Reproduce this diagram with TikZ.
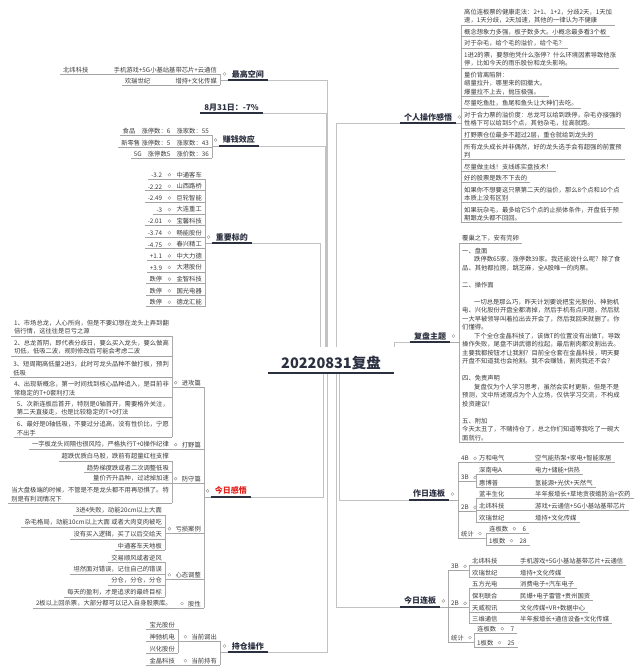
\documentclass[tikz,border=0pt]{standalone}
\usepackage{fontspec}
\setmainfont{Noto Sans CJK SC}
\usetikzlibrary{positioning}
\definecolor{navy}{HTML}{2B3040}
\definecolor{leafink}{HTML}{3A3A3A}
\definecolor{rootgray}{HTML}{C2C2C2}
\definecolor{conngray}{HTML}{ABABAB}
\definecolor{ulgray}{HTML}{A3A3A3}
\definecolor{hotred}{HTML}{E3201B}
\tikzset{
    rootnode/.style = {font=\fontsize{14.5}{16}\selectfont\bfseries, text=navy, inner xsep=13pt, inner ysep=3pt, anchor=south},
    topicl/.style = {font=\fontsize{8}{10}\selectfont\bfseries, text=navy, inner xsep=4pt, inner ysep=2pt, anchor=south east},
    topicr/.style = {topicl, anchor=south west},
    leafl/.style = {font=\fontsize{6.3}{8.5}\selectfont, text=leafink, inner xsep=3pt, inner ysep=1.2pt, align=left, anchor=south east},
    leafr/.style = {leafl, anchor=south west},
    knob/.style = {circle, draw=gray!80, fill=white, line width=0.4pt, inner sep=0pt, minimum size=3pt},
    edgeroot/.style = {-, line width=0.8pt, rootgray}, % root to topics
    edgen/.style = {-, line width=0.5pt, conngray}, % topic to leaves
    ulinet/.style = {-, line width=1.4pt, navy},
    ulinel/.style = {-, line width=0.5pt, ulgray}
}

\begin{document}
\begin{tikzpicture}[x=1pt,y=-1pt]
\useasboundingbox (0,0) rectangle (640,670);

\node[rootnode] (root) at (331,373) {20220831复盘};

\node[topicl] (top1) at (268,80) {最高空间};
\node[topicl] (top2) at (263,113) {8月31日：-7\%};
\node[topicl] (top3) at (259,146) {赚钱效应};
\node[topicl] (top4) at (252,243) {重要标的};
\node[topicl,text=hotred] (top5) at (251,497) {今日感悟};
\node[topicl] (top6) at (268,652) {持仓操作};
\node[topicr] (top7) at (400,123) {个人操作感悟};
\node[topicr] (top8) at (410,342) {复盘主题};
\node[topicr] (top9) at (409,500) {作日连板};
\node[topicr] (top10) at (400,607) {今日连板};

\draw[edgeroot] ([xshift=-4pt,yshift=6pt]root.north) |- (top1.south east);
\draw[edgeroot] ([xshift=-5pt,yshift=6pt]root.north) |- (top2.south east);
\draw[edgeroot] ([xshift=-6pt,yshift=6pt]root.north) |- (top3.south east);
\draw[edgeroot] ([xshift=-11pt,yshift=6pt]root.north) |- (top4.south east);
\draw[edgeroot] ([xshift=-8pt]root.south) |- (top5.south east);
\draw[edgeroot] ([xshift=-4pt]root.south) |- (top6.south east);
\draw[edgeroot] ([xshift=5pt,yshift=6pt]root.north) |- (top7.south west);
\draw[edgeroot] ([yshift=26pt]root.south east) |- (top8.south west);
\draw[edgeroot] ([xshift=8pt]root.south) |- (top9.south west);
\draw[edgeroot] ([xshift=5pt]root.south) |- (top10.south west);

% left side
\node[leafl] (m1c) at (220,74) {手机游戏+5G小基站基带芯片+云通信};
\node[leafl] (m1s) at ([xshift=-19pt]m1c.south west) {北纬科技};
\node[leafl] (m2c) at (220,85) {增持+文化传媒};
\node[leafl] (m2s) at ([xshift=-19pt]m2c.south west) {欢瑞世纪};
\draw[edgen] (top1.south west) -| (m1c.south east);
\draw[edgen] (top1.south west) -| (m2c.south east);

\node[leafl] (z1) at (212,135) {食品\quad 涨停数：6\quad 涨家数：55};
\node[leafl] (z2) at (212,147) {新零售 涨停数：5\quad 涨家数：43};
\node[leafl] (z3) at (212,158) {5G\quad 涨停数5\quad 涨价数：36};
\foreach \c in {z1,z2,z3}
    \draw[edgen] (top3.south west) -| (\c.south east);

\foreach \val/\stk [count=\i] in {-3.2/中通客车, -2.22/山西路桥, -2.49/巨轮智能, -3/大连重工, -2.01/宝馨科技, -3.74/畅能股份, -4.75/春兴精工, +1.1/中大力德, +3.9/大港股份, 跌停/金智科技, 跌停/国光电器, 跌停/德龙汇能}{
    \node[leafl] (b\i) at (205,{179+11.6*(\i-1)}) {\stk};
    \node[leafl] (bv\i) at ([xshift=-8pt]b\i.south west) {\val};
    \draw[ulinel] (bv\i.south west) -- (b\i.south east);
    \draw[edgen] (top4.south west) -| (b\i.south east);
    \node[knob] (bk\i) at ([xshift=-4pt]b\i.west) {};
}

\node[leafl] (g1) at (204,387) {进攻篇};
\node[leafl] (g2) at (204,449) {打野篇};
\node[leafl] (g3) at (204,483) {防守篇};
\node[leafl] (g4) at (204,533) {亏损案例};
\node[leafl] (g5) at (204,579) {心态调整};
\node[leafl] (g6) at (204,608) {股性};
\foreach \c in {g1,g2,g3,g4,g5,g6}
    \draw[edgen] (top5.south west) -| (\c.south east);

\node[leafl] (a1) at (172,336) {1、市场总龙，人心所向，但是不要幻想在龙头上弄到翻\\倍行情，这往往是巨亏之源};
\node[leafl] (a2) at (172,356) {2、总龙首阴，即代表分歧日，要么买入龙头，要么做高\\切低，低吸二波，规则修改后可能会考虑二波};
\node[leafl] (a3) at (172,377) {3、短周期高低量2进3，此时可龙头品种不做打板，预判\\低吸};
\node[leafl] (a4) at (172,397) {4、出现新概念，第一时间找到核心品种追入，是目前非\\常稳定的T+0套利打法};
\node[leafl] (a5) at (172,417) {5、次新连板后首开，特别是0轴首开，需要格外关注，\\第二天直接走，也是比较稳定的T+0打法};
\node[leafl] (a6) at (172,437) {6、最好是0轴低吸，不要过分追高，没有性价比，宁愿\\不出手};
\foreach \c in {a1,a2,a3,a4,a5,a6}
    \draw[edgen] (g1.south west) -| (\c.south east);

\node[leafl] (d1) at (172,449) {一字板龙头间隔也很风险，严格执行T+0操作纪律};
\draw[edgen] (g2.south west) -- (d1.south east);

\node[leafl] (e1) at (172,461) {超跌优质白马股，跌前有超量红柱支撑};
\node[leafl] (e2) at (172,472) {趋势梯度跌或者二次调整低吸};
\node[leafl] (e3) at (172,483) {量价齐升品种，过滤掉加速};
\node[leafl] (e4) at (172,503) {当大盘极端的时候，不管是不是龙头都不用再恐惧了。特\\别是有利润情况下};
\foreach \c in {e1,e2,e3,e4}
    \draw[edgen] (g3.south west) -| (\c.south east);

\node[leafl] (c1) at (165,515) {3进4失败，动能20cm以上大面};
\node[leafl] (c2) at (165,527) {杂毛格局，动能10cm以上大面 或者大肉变肉被吃};
\node[leafl] (c3) at (165,539) {没有买入逻辑，买了以后交给天};
\node[leafl] (c4) at (165,550) {中通客车天地板};
\foreach \c in {c1,c2,c3,c4}
    \draw[edgen] (g4.south west) -| (\c.south east);

\node[leafl] (t1) at (165,562) {交易顺风或者逆风};
\node[leafl] (t2) at (165,574) {坦然面对错误，记住自己的错误};
\node[leafl] (t3) at (165,585) {分仓，分仓，分仓};
\node[leafl] (t4) at (165,597) {每天的盈利，才是追求的最终目标};
\foreach \c in {t1,t2,t3,t4}
    \draw[edgen] (g5.south west) -| (\c.south east);

\node[leafl] (f1) at ([xshift=-10pt]g6.south west) {2板以上回杀票，大部分都可以记入自身股票库。};
\draw[edgen] (g6.south west) -- (f1.south east);

\node[leafl] (h1) at (220,641) {当前调出};
\node[leafl] (h2) at (220,665) {当前持有};
\node[leafl] (h11) at (178,629) {宝光股份};
\node[leafl] (h12) at (178,641) {神驰机电};
\node[leafl] (h13) at (178,653) {兴化股份};
\node[leafl] (h21) at (178,665) {金晶科技};
\foreach \c in {h1,h2}
    \draw[edgen] (top6.south west) -| (\c.south east);
\foreach \c in {h11,h12,h13}
    \draw[edgen] (h1.south west) -| (\c.south east);
\draw[edgen] (h2.south west) -- (h21.south east);

% right side
\node[leafr] (p1) at (461,25) {高位连板票的健康走法：2+1、1+2，分歧2天，1天加\\速，1天分歧，2天加速，其他的一律认为不健康};
\node[leafr] (p2) at (461,36.5) {概念想象力多强，板子数多大。小概念最多看3个板};
\node[leafr] (p3) at (461,48) {对于杂毛，给个毛的溢价，给个毛？};
\node[leafr] (p4) at (461,68) {1进2的票，要想他凭什么涨停？什么环境因素导致他涨\\停，比如今天的雨乐股份和龙头影响。};
\node[leafr] (p5) at (461,96.5) {量价背离陷阱：\\缩量拉升，哪里来的回撤大。\\爆量拉不上去，抛压极强。};
\node[leafr] (p6) at (461,108) {尽量吃鱼肚，鱼尾和鱼头让大神们去吃。};
\node[leafr] (p7) at (461,128) {对于合力票的溢价度：总龙可以给到跌停，杂毛亦接强的\\性格下可以给到5个点，其他杂毛，拉高就跑。};
\node[leafr] (p8) at (461,139.5) {打野票仓位最多不超过2层，重仓就给到龙头的};
\node[leafr] (p9) at (461,159.5) {所有龙头成长并非偶然，好的龙头选手会有超强的前置预\\判};
\node[leafr] (p10) at (461,171) {尽量做主线！支线练实盘技术！};
\node[leafr] (p11) at (461,182.5) {好的股票是跌不下去的};
\node[leafr] (p12) at (461,202.5) {如果你不想要这只票第二天的溢价，那么8个点和10个点\\本质上没有区别};
\node[leafr] (p13) at (461,222.5) {如果玩杂毛，最多给它5个点的止损体条件，开盘低于预\\期跟龙头都不回回。};
\foreach \c in {p1,p2,p3,p4,p5,p6,p7,p8,p9,p10,p11,p12,p13}
    \draw[edgen] (top7.south east) -| (\c.south west);

\node[leafr] (q1) at (459,243) {覆巢之下，安有完卵};
\node[leafr] (q2) at (459,442) {一、盘面\\
\hspace*{12pt}跌停数65家，涨停数39家。我还能说什么呢？除了食\\
品、其他都拉胯，跳芝麻，全A股唯一的肉票。\\[8.5pt]
二、操作面\\[8.5pt]
\hspace*{12pt}一切总是那么巧，昨天计划要说把宝光股份、神驰机\\
电、兴化股份开盘全都清掉，然后手机有点问题，然后就\\
一大早被领导叫着拉出去开会了，然后我回来就删了。你\\
们懂得。\\
\hspace*{12pt}下个全仓金晶科技了，该做T的位置没有出做T，导致\\
操作失败，尾盘不讲武德的拉起，最后割肉都没割出去。\\
主要我都按钮才让我割？目前全仓套在金晶科技，明天要\\
开盘不知道我也会抢割。我不会赚钱，割肉我还不会？\\[8.5pt]
四、免责声明\\
\hspace*{12pt}复盘仅为个人学习思考，虽然会实时更新，但是不是\\
预测，文中所述观点为个人立场，仅供学习交流，不构成\\
投资建议！\\[8.5pt]
五、附加\\
今天太丑了，不赌持仓了，总之你们知道等我吃了一碗大\\
面就行。};
\foreach \c in {q1,q2}
    \draw[edgen] (top8.south east) -| (\c.south west);

\node[leafr] (r1) at (458,462) {4B};
\node[leafr] (r1s) at (476,462) {万和电气};
\node[leafr] (r1c) at (532,462) {空气能热泵+家电+智能家居};
\node[leafr] (r2) at (458,481) {3B};
\node[leafr] (r21s) at (476,474) {深南电A};
\node[leafr] (r21c) at (532,474) {电力+储能+供热};
\node[leafr] (r22s) at (476,487) {惠博普};
\node[leafr] (r22c) at (532,487) {氢能源+光伏+天然气};
\node[leafr] (r3) at (458,511) {2B};
\node[leafr] (r31s) at (476,498) {蓝丰生化};
\node[leafr] (r31c) at (532,498) {半年报增长+草地贪夜蛾防治+农药};
\node[leafr] (r32s) at (476,510) {北纬科技};
\node[leafr] (r32c) at (532,510) {游戏+云通信+5G小基站基带芯片};
\node[leafr] (r33s) at (476,522) {欢瑞世纪};
\node[leafr] (r33c) at (532,522) {增持+文化传媒};
\node[leafr] (r4) at (458,538) {统计};
\node[leafr] (r4a) at (486,533) {连板数};
\node[leafr] (r4av) at ([xshift=8pt]r4a.south east) {6};
\node[leafr] (r4b) at (486,545) {1板数};
\node[leafr] (r4bv) at ([xshift=8pt]r4b.south east) {28};
\foreach \c in {r1,r2,r3,r4}
    \draw[edgen] (top9.south east) -| (\c.south west);
\draw[edgen] (r1.south east) -- (r1s.south west);
\foreach \c in {r21s,r22s}
    \draw[edgen] (r2.south east) -| (\c.south west);
\foreach \c in {r31s,r32s,r33s}
    \draw[edgen] (r3.south east) -| (\c.south west);
\foreach \c in {r4a,r4b}
    \draw[edgen] (r4.south east) -| (\c.south west);

\node[leafr] (s1) at (448,570) {3B};
\node[leafr] (s11s) at (469,565) {北纬科技};
\node[leafr] (s11c) at (517,565) {手机游戏+5G小基站基带芯片+云通信};
\node[leafr] (s12s) at (469,577) {欢瑞世纪};
\node[leafr] (s12c) at (517,577) {增持+文化传媒};
\node[leafr] (s2) at (448,607) {2B};
\node[leafr] (s21s) at (469,588) {五方光电};
\node[leafr] (s21c) at (517,588) {消费电子+汽车电子};
\node[leafr] (s22s) at (469,600) {保利联合};
\node[leafr] (s22c) at (517,600) {民爆+电子雷管+贵州国资};
\node[leafr] (s23s) at (469,612) {天威视讯};
\node[leafr] (s23c) at (517,612) {文化传媒+VR+数据中心};
\node[leafr] (s24s) at (469,623) {三维通信};
\node[leafr] (s24c) at (517,623) {半年报增长+通信设备+文化传媒};
\node[leafr] (s3) at (448,642) {统计};
\node[leafr] (s3a) at (474,633) {连板数};
\node[leafr] (s3av) at ([xshift=8pt]s3a.south east) {7};
\node[leafr] (s3b) at (474,647) {1板数};
\node[leafr] (s3bv) at ([xshift=8pt]s3b.south east) {25};
\foreach \c in {s1,s2,s3}
    \draw[edgen] (top10.south east) -| (\c.south west);
\foreach \c in {s11s,s12s}
    \draw[edgen] (s1.south east) -| (\c.south west);
\foreach \c in {s21s,s22s,s23s,s24s}
    \draw[edgen] (s2.south east) -| (\c.south west);
\foreach \c in {s3a,s3b}
    \draw[edgen] (s3.south east) -| (\c.south west);

% underlines
\draw[ulinet, line width=1.6pt] (root.south west) -- (root.south east);
\foreach \t in {top1,top2,top3,top4,top5,top6,top7,top8,top9,top10}
    \draw[ulinet] (\t.south west) -- (\t.south east);
\foreach \c in {z1,z2,z3,g1,g2,g3,g4,g5,g6,a1,a2,a3,a4,a5,a6,d1,e1,e2,e3,e4,c1,c2,c3,c4,t1,t2,t3,t4,f1,h1,h2,h11,h12,h13,h21,p1,p2,p3,p4,p5,p6,p7,p8,p9,p10,p11,p12,p13,q1,q2,r1,r2,r3,r4,s1,s2,s3}
    \draw[ulinel] (\c.south west) -- (\c.south east);
\foreach \a/\b in {m1s/m1c,m2s/m2c,r1s/r1c,r21s/r21c,r22s/r22c,r31s/r31c,r32s/r32c,r33s/r33c,r4a/r4av,r4b/r4bv,s11s/s11c,s12s/s12c,s21s/s21c,s22s/s22c,s23s/s23c,s24s/s24c,s3a/s3av,s3b/s3bv}
    \draw[ulinel] (\a.south west) -- (\b.south east);

% knobs
\foreach \t in {top1,top3,top4,top5,top6,g1,g2,g3,g4,g5,g6,h1,h2}
    \node[knob] (kn-\t) at ([xshift=-3pt]\t.west) {};
\foreach \t in {top7,top8,top9,top10,r1,r2,r3,r4,s1,s2,s3,r4a,r4b,s3a,s3b}
    \node[knob] (kn-\t) at ([xshift=3pt]\t.east) {};

\end{tikzpicture}
\end{document}
